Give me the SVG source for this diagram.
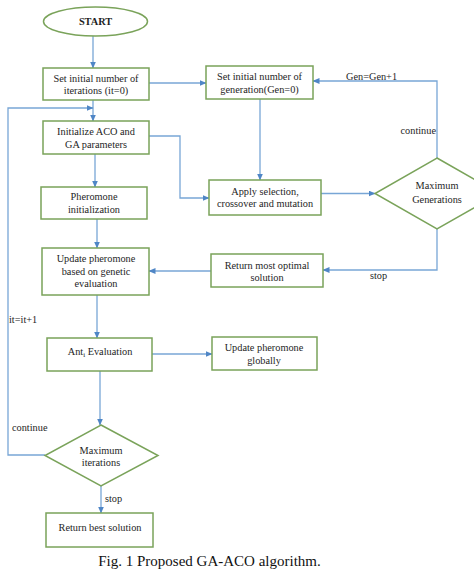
<svg xmlns="http://www.w3.org/2000/svg" width="474" height="570" viewBox="0 0 474 570">
<defs>
<marker id="ah" markerWidth="7" markerHeight="6" refX="6.5" refY="3" orient="auto" markerUnits="userSpaceOnUse">
<path d="M0,0 L7,3 L0,6 Z" fill="#4f86c6"/>
</marker>
<style>
.n{fill:#fff;stroke:#7aa35a;stroke-width:1.5}
.t{font-family:"Liberation Serif","Times New Roman",serif;font-size:10.3px;fill:#1e1e1e;text-anchor:middle}
.l{font-family:"Liberation Serif","Times New Roman",serif;font-size:10.3px;fill:#1e1e1e}
.c{fill:none;stroke:#78a6d6;stroke-width:1.3}
.a{marker-end:url(#ah)}
</style>
</defs>
<rect width="474" height="570" fill="#fff"/>
<g id="connectors">
<path class="c a" d="M93,36 V68"/>
<path class="c a" d="M149,83 H206"/>
<path class="c a" d="M93,100 V121"/>
<path class="c a" d="M45,455 H8 V108 H93"/>
<path class="c a" d="M149,136 H180 V198 H209"/>
<path class="c a" d="M95,154 V187"/>
<path class="c a" d="M97,219 V248"/>
<path class="c a" d="M260,99 V180"/>
<path class="c a" d="M321,193.5 H375"/>
<path class="c a" d="M437,158 V81 H313"/>
<path class="c a" d="M437,229 V270 H323"/>
<path class="c a" d="M211,271 H149"/>
<path class="c a" d="M97,295 V338"/>
<path class="c a" d="M152,354 H212"/>
<path class="c a" d="M100,371 V425"/>
<path class="c a" d="M101,486 V513"/>
</g>
<g id="labels">
<text class="l" x="346" y="80">Gen=Gen+1</text>
<text class="l" x="436" y="133.5" text-anchor="end">continue</text>
<text class="l" x="370" y="279">stop</text>
<text class="l" x="9" y="322.5">it=it+1</text>
<text class="l" x="12" y="430.5">continue</text>
<text class="l" x="105" y="501.5">stop</text>
</g>
<g id="start">
<ellipse class="n" cx="95.5" cy="21.5" rx="52" ry="14.5"/>
<text class="t" x="95.5" y="25" font-weight="bold" font-size="9.8">START</text>
</g>
<g id="set-iterations">
<rect class="n" x="43" y="68" width="106" height="32"/>
<text class="t" x="96" y="81.5">Set initial number of</text>
<text class="t" x="96" y="93.5">iterations (it=0)</text>
</g>
<g id="init-params">
<rect class="n" x="43" y="121" width="106" height="33"/>
<text class="t" x="96" y="135">Initialize ACO and</text>
<text class="t" x="96" y="148">GA parameters</text>
</g>
<g id="pheromone-init">
<rect class="n" x="41" y="187" width="106" height="32"/>
<text class="t" x="94" y="200">Pheromone</text>
<text class="t" x="94" y="212.5">initialization</text>
</g>
<g id="set-generation">
<rect class="n" x="206" y="66" width="107" height="33"/>
<text class="t" x="259.5" y="79.5">Set initial number of</text>
<text class="t" x="259.5" y="92.5">generation(Gen=0)</text>
</g>
<g id="apply-ops">
<rect class="n" x="209" y="180" width="112" height="35"/>
<text class="t" x="265" y="194.5">Apply selection,</text>
<text class="t" x="265" y="206.5">crossover and mutation</text>
</g>
<g id="max-generations">
<polygon class="n" points="437,158 499,193.5 437,229 375,193.5"/>
<text class="t" x="437" y="188.5">Maximum</text>
<text class="t" x="437" y="202.5">Generations</text>
</g>
<g id="return-optimal">
<rect class="n" x="211" y="254" width="112" height="33"/>
<text class="t" x="267" y="268.5">Return most optimal</text>
<text class="t" x="267" y="281">solution</text>
</g>
<g id="update-genetic">
<rect class="n" x="42" y="248" width="107" height="47"/>
<text class="t" x="96" y="261.5">Update pheromone</text>
<text class="t" x="96" y="274.5">based on genetic</text>
<text class="t" x="96" y="287">evaluation</text>
</g>
<g id="ant-evaluation">
<rect class="n" x="47" y="338" width="105" height="33"/>
<text class="t" x="100" y="354.5">Ant<tspan font-size="7" dy="2">i</tspan><tspan dy="-2">  Evaluation</tspan></text>
</g>
<g id="update-global">
<rect class="n" x="212" y="337" width="105" height="33"/>
<text class="t" x="264" y="350.5">Update pheromone</text>
<text class="t" x="264" y="364">globally</text>
</g>
<g id="max-iterations">
<polygon class="n" points="101,425 158,455.5 101,486 45,455.5"/>
<text class="t" x="101" y="453.5">Maximum</text>
<text class="t" x="101" y="466">iterations</text>
</g>
<g id="return-best">
<rect class="n" x="46" y="513" width="107" height="34"/>
<text class="t" x="100" y="530.5">Return best solution</text>
</g>
<text x="209.5" y="566" font-family="'Liberation Serif','Times New Roman',serif" font-size="15" fill="#111" text-anchor="middle">Fig. 1 Proposed GA-ACO algorithm.</text>
</svg>
